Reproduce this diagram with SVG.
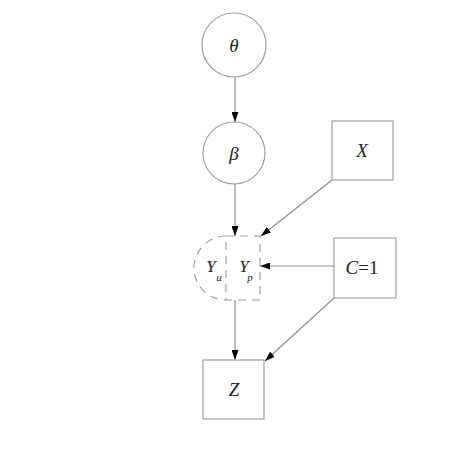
<svg xmlns="http://www.w3.org/2000/svg" width="474" height="474" viewBox="0 0 474 474">
<defs>
<style>
.n{fill:none;stroke:#a0a0a0;stroke-width:1.2}
.d{fill:none;stroke:#a0a0a0;stroke-width:1.2;stroke-dasharray:8,6}
.e{fill:none;stroke:#8c8c8c;stroke-width:1.2;marker-end:url(#ah)}
.t{font-family:"Liberation Serif","Times New Roman",serif;font-style:italic;font-size:19px;fill:#222;text-anchor:middle}
.y{font-size:17px}
.s{font-size:11px}
</style>
<marker id="ah" viewBox="0 0 10 7" refX="10" refY="3.5" markerWidth="10" markerHeight="7" markerUnits="userSpaceOnUse" orient="auto">
<path d="M0,0 L10,3.5 L0,7 z" fill="#000"/>
</marker>
</defs>
<rect width="474" height="474" fill="#fff"/>
<g id="edges">
<line class="e" x1="235" y1="77" x2="235" y2="122"/>
<line class="e" x1="235" y1="184" x2="235" y2="236"/>
<line class="e" x1="332" y1="180" x2="261" y2="236"/>
<line class="e" x1="334" y1="266" x2="260" y2="266"/>
<line class="e" x1="235" y1="300" x2="235" y2="360"/>
<line class="e" x1="334" y1="298" x2="265" y2="361"/>
</g>
<g id="theta">
<circle class="n" cx="234" cy="45" r="32"/>
<text class="t" x="234" y="52">θ</text>
</g>
<g id="beta">
<circle class="n" cx="234" cy="153" r="31"/>
<text class="t" x="234" y="160">β</text>
</g>
<g id="X">
<rect class="n" x="332" y="121" width="61" height="59"/>
<text class="t" x="362" y="157">X</text>
</g>
<g id="Y">
<path class="d" d="M226,236 A32,32 0 0 0 226,300"/>
<rect class="d" x="226" y="236" width="34" height="64"/>
<text class="t y" x="211" y="272">Y</text>
<text class="t s" x="219" y="281">u</text>
<text class="t y" x="244" y="272">Y</text>
<text class="t s" x="250" y="281">p</text>
</g>
<g id="C">
<rect class="n" x="334" y="238" width="62" height="60"/>
<text class="t" x="362" y="274">C<tspan style="font-style:normal">=1</tspan></text>
</g>
<g id="Z">
<rect class="n" x="203" y="360" width="61" height="59"/>
<text class="t" x="234" y="396">Z</text>
</g>
</svg>
